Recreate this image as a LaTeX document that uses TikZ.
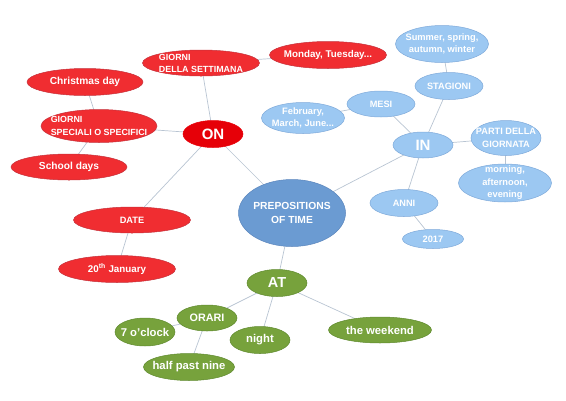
\documentclass[tikz,border=0pt]{standalone}
\usepackage{fontspec}
\setmainfont{Liberation Sans}
\usetikzlibrary{shapes.geometric,backgrounds}
\definecolor{redA}{HTML}{F02D31}
\definecolor{redB}{HTML}{E60008}
\definecolor{redL}{HTML}{C5303A}
\definecolor{blueA}{HTML}{9CC8F2}
\definecolor{blueL}{HTML}{7FAADA}
\definecolor{blueC}{HTML}{6B9BD2}
\definecolor{blueCL}{HTML}{5A85BC}
\definecolor{greenA}{HTML}{77A23C}
\definecolor{greenL}{HTML}{5F8A2E}
\definecolor{edgeC}{HTML}{B8C4D2}
\tikzset{
  bub/.style={ellipse, inner xsep=-14pt, inner ysep=-5pt, text=white, font=\bfseries, align=center, line width=0.5pt},
  rednode/.style={bub, fill=redA, draw=redL},
  onnode/.style={bub, fill=redB, draw=redB},
  bluenode/.style={bub, fill=blueA, draw=blueL},
  centernode/.style={bub, fill=blueC, draw=blueCL},
  greennode/.style={bub, fill=greenA, draw=greenL},
  conn/.style={draw=edgeC, line width=0.7pt},
}
\begin{document}
\begin{tikzpicture}[x=1pt,y=-1pt]
\useasboundingbox (0,0) rectangle (566,400);
% red
\node[rednode, minimum width=117pt, minimum height=26pt, font=\bfseries\fontsize{8.9}{12}\selectfont, align=left] (sett) at (201,63) {GIORNI\\DELLA SETTIMANA};
\node[rednode, minimum width=117pt, minimum height=27pt, font=\bfseries\fontsize{9.8}{11}\selectfont] (mon) at (328,55) {Monday, Tuesday...};
\node[rednode, minimum width=116pt, minimum height=27pt, font=\bfseries\fontsize{10.2}{11}\selectfont] (xmas) at (85,82) {Christmas day};
\node[rednode, minimum width=116pt, minimum height=33pt, font=\bfseries\fontsize{8.9}{12.5}\selectfont, align=left] (spec) at (99,126) {GIORNI\\SPECIALI O SPECIFICI};
\node[rednode, minimum width=116pt, minimum height=26pt, font=\bfseries\fontsize{10.2}{11}\selectfont] (school) at (69,167) {School days};
\node[onnode, minimum width=60pt, minimum height=27pt, font=\bfseries\fontsize{15}{16}\selectfont] (on) at (213,134) {ON};
\node[rednode, minimum width=117pt, minimum height=26pt, font=\bfseries\fontsize{9.2}{11}\selectfont] (date) at (132,220) {DATE};
\node[rednode, minimum width=117pt, minimum height=27pt, font=\bfseries\fontsize{9.8}{11}\selectfont] (jan) at (117,269) {20\textsuperscript{th} January};
% center
\node[centernode, minimum width=107pt, minimum height=67pt, font=\bfseries\fontsize{10.3}{14.5}\selectfont] (prep) at (292,213) {PREPOSITIONS\\OF TIME};
% blue
\node[bluenode, minimum width=60pt, minimum height=26pt, font=\bfseries\fontsize{15}{16}\selectfont] (in) at (423,145) {IN};
\node[bluenode, minimum width=68pt, minimum height=26pt, font=\bfseries\fontsize{9.2}{11}\selectfont] (mesi) at (381,104) {MESI};
\node[bluenode, minimum width=83pt, minimum height=31pt, font=\bfseries\fontsize{9.3}{12.5}\selectfont] (feb) at (303,118) {February,\\March, June...};
\node[bluenode, minimum width=68pt, minimum height=27pt, font=\bfseries\fontsize{9.2}{11}\selectfont] (stag) at (449,86) {STAGIONI};
\node[bluenode, minimum width=93pt, minimum height=37pt, font=\bfseries\fontsize{9.3}{12.5}\selectfont] (summer) at (442,44) {Summer, spring,\\autumn, winter};
\node[bluenode, minimum width=70pt, minimum height=35pt, font=\bfseries\fontsize{9.2}{12.5}\selectfont] (parti) at (506,138) {PARTI DELLA\\GIORNATA};
\node[bluenode, minimum width=93pt, minimum height=38pt, font=\bfseries\fontsize{9.3}{12.5}\selectfont] (morn) at (505,183) {morning,\\afternoon,\\evening};
\node[bluenode, minimum width=61pt, minimum height=19pt, font=\bfseries\fontsize{9.3}{11}\selectfont] (y2017) at (433,239) {2017};
\node[bluenode, minimum width=68pt, minimum height=27pt, font=\bfseries\fontsize{9.2}{11}\selectfont] (anni) at (404,203) {ANNI};
% green
\node[greennode, minimum width=60pt, minimum height=27pt, font=\bfseries\fontsize{14.5}{16}\selectfont] (at) at (277,283) {AT};
\node[greennode, minimum width=60pt, minimum height=26pt, font=\bfseries\fontsize{10.8}{11}\selectfont] (orari) at (207,318) {ORARI};
\node[greennode, minimum width=60pt, minimum height=28pt, font=\bfseries\fontsize{11.3}{12}\selectfont] (seven) at (145,332) {7 o'clock};
\node[greennode, minimum width=91pt, minimum height=27pt, font=\bfseries\fontsize{11.3}{12}\selectfont] (half) at (189,367) {half past nine};
\node[greennode, minimum width=60pt, minimum height=27pt, font=\bfseries\fontsize{11.3}{12}\selectfont] (night) at (260,340) {night};
\node[greennode, minimum width=103pt, minimum height=26pt, font=\bfseries\fontsize{11.3}{12}\selectfont] (week) at (380,330) {the weekend};
% connectors
\begin{scope}[on background layer]
\draw[conn] (on.center) -- (sett.center);
\draw[conn] (sett.center) -- (mon.center);
\draw[conn] (on.center) -- (spec.center);
\draw[conn] (spec.center) -- (xmas.center);
\draw[conn] (spec.center) -- (school.center);
\draw[conn] (on.center) -- (date.center);
\draw[conn] (date.center) -- (jan.center);
\draw[conn] (on.center) -- (prep.center);
\draw[conn] (prep.center) -- (in.center);
\draw[conn] (prep.center) -- (at.center);
\draw[conn] (in.center) -- (mesi.center);
\draw[conn] (mesi.center) -- (feb.center);
\draw[conn] (in.center) -- (stag.center);
\draw[conn] (stag.center) -- (summer.center);
\draw[conn] (in.center) -- (parti.center);
\draw[conn] (parti.center) -- (morn.center);
\draw[conn] (in.center) -- (anni.center);
\draw[conn] (anni.center) -- (y2017.center);
\draw[conn] (at.center) -- (orari.center);
\draw[conn] (orari.center) -- (seven.center);
\draw[conn] (orari.center) -- (half.center);
\draw[conn] (at.center) -- (night.center);
\draw[conn] (at.center) -- (week.center);
\end{scope}
\end{tikzpicture}
\end{document}
